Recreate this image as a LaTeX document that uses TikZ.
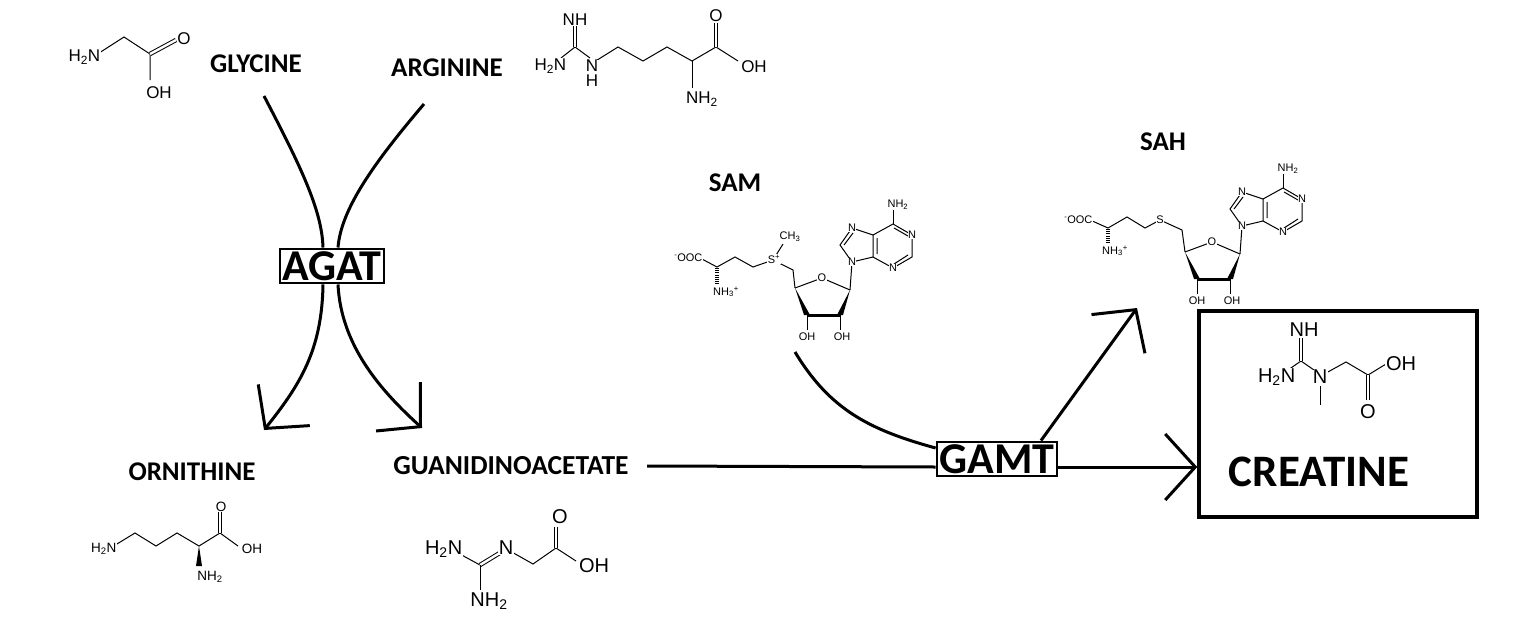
\documentclass[tikz,border=0pt]{standalone}
\usepackage{fontspec}
\setmainfont{Liberation Sans}
\newfontfamily\labf{Carlito}
\usetikzlibrary{arrows.meta}
\newcommand\sub[1]{\textsubscript{#1}}
\newcommand\sups[1]{\textsuperscript{#1}}
\begin{document}
\begin{tikzpicture}[x=1pt,y=-1pt,
  bond/.style={line width=1pt},
  dbl/.style={bond,double,double distance=2.4pt},
  hash/.style={line width=4pt,dash pattern=on 0.8pt off 1.4pt},
  atom/.style={fill=white,inner sep=0.6pt,font=\fontsize{17}{17}\selectfont},
  satom/.style={fill=white,inner sep=0.4pt,font=\fontsize{11}{11}\selectfont},
  oatom/.style={fill=white,inner sep=0.5pt,font=\fontsize{13.5}{13.5}\selectfont},
  gatom/.style={fill=white,inner sep=0.6pt,font=\fontsize{20}{20}\selectfont},
  lab/.style={font=\labf\bfseries\fontsize{27}{27}\selectfont,inner sep=1pt},
  enz/.style={draw,line width=2.8pt,font=\labf\bfseries\fontsize{44}{44}\selectfont,inner sep=2.5pt,fill=white},
  arr/.style={line width=3pt},
  tip/.style={line width=3pt,-{Straight Barb[length=30pt,width=66pt,line width=3pt]}},
  adeno/.pic={
    \draw[bond] (0,0)--(27,-10)--(55,2);
    \fill (0,0)--(9,27)--(15,27)--cycle;
    \fill (55,2)--(42,27)--(48,27)--cycle;
    \draw[line width=3pt] (12,27)--(45,27);
    \draw[bond] (12,27)--(12,42) (45,27)--(45,42);
    \draw[bond] (55,2)--(57,-26);
    \draw[bond] (57,-26)--(78,-31)--(78,-53)--(57,-60)--(45,-43)--cycle;
    \draw[bond] (78,-31)--(98,-20)--(117,-31)--(117,-53)--(98,-64)--(78,-53);
    \draw[bond] (98,-64)--(98,-78);
    \draw[bond] (49,-43)--(58,-55) (99,-60)--(113,-52) (113,-33)--(99,-24) (82,-34)--(82,-50);
    \node[satom] (-o) at (27,-10) {O};
    \node[satom] (-n9) at (57,-26) {N};
    \node[satom] (-n7) at (57,-60) {N};
    \node[satom] (-n1) at (117,-53) {N};
    \node[satom] (-n3) at (98,-20) {N};
    \node[satom,anchor=south west] (-nh) at (92,-78) {NH\sub2};
    \node[satom] (-oh1) at (12,49) {OH};
    \node[satom] (-oh2) at (47,49) {OH};
  }]
\useasboundingbox (0,0) rectangle (1536,640);

% ---------- glycine ----------
\draw[bond] (96,55)--(124,37)--(150,54)--(150,80);
\draw[dbl] (150,54)--(176,40);
\node[atom,anchor=east] (glyN) at (101,57) {H\sub2N};
\node[atom] (glyO) at (184,39) {O};
\node[atom] (glyOH) at (159,93) {OH};

% ---------- arginine ----------
\draw[bond] (561,58)--(575,47)--(590,58);
\draw[dbl] (575,47)--(575,26);
\draw[bond] (594,62)--(618,47)--(643,61)--(667,47)--(692,61)--(716,47)--(738,61);
\draw[bond] (692,61)--(692,88);
\draw[dbl] (716,47)--(716,22);
\node[atom] (argNH) at (575,20) {NH};
\node[atom,anchor=east] (argN1) at (567,66) {H\sub2N};
\node[atom] (argN2) at (592,66) {N};
\node[atom] (argH) at (592,81) {H};
\node[atom] (argO) at (716,16) {O};
\node[atom] (argOH) at (754,67) {OH};
\node[atom] (argNH2) at (702,99) {NH\sub2};

% ---------- ornithine ----------
\draw[bond] (112,547)--(135,533)--(156,546)--(177,533)--(199,546)--(220,533)--(238,546);
\draw[dbl] (220,533)--(220,512);
\fill (199,546)--(196,566)--(202,566)--cycle;
\node[oatom,anchor=east] (ornN) at (117,549) {H\sub2N};
\node[oatom] (ornO) at (221,507) {O};
\node[oatom] (ornOH) at (252,549) {OH};
\node[oatom] (ornNH2) at (210,577) {NH\sub2};

% ---------- guanidinoacetate ----------
\draw[bond] (458,553)--(480,565);
\draw[dbl] (480,565)--(503,551);
\draw[bond] (480,565)--(480,590);
\draw[bond] (510,551)--(533,564)--(556,548)--(576,561);
\draw[dbl] (556,548)--(556,527);
\node[gatom,anchor=east] (gaaN1) at (463,549) {H\sub2N};
\node[gatom] (gaaN2) at (506,548) {N};
\node[gatom] (gaaNH2) at (489,601) {NH\sub2};
\node[gatom] (gaaO) at (560,517) {O};
\node[gatom] (gaaOH) at (594,566) {OH};

% ---------- SAM ----------
\draw[bond] (700,258)--(717,267)--(735,257)--(753,267)--(773,260)--(793,270)--(795,288);
\draw[bond] (773,260)--(783,244);
\draw[hash] (717,268)--(717,284);
\pic (samr) at (795,288) {adeno};
\node[satom,anchor=east] (samOOC) at (703,258) {\sups{-}OOC};
\node[satom] (samS) at (774,259) {S\sups{+}};
\node[satom] (samCH3) at (790,237) {CH\sub3};
\node[satom] (samNH3) at (726,292) {NH\sub3\sups{+}};

% ---------- SAH ----------
\draw[bond] (1090,220)--(1108,228)--(1127,217)--(1145,228)--(1160,220)--(1182,230)--(1185,252);
\draw[hash] (1108,229)--(1108,243);
\pic (sahr) at (1185,252) {adeno};
\node[satom,anchor=east] (sahOOC) at (1093,220) {\sups{-}OOC};
\node[satom] (sahS) at (1160,220) {S};
\node[satom] (sahNH3) at (1115,251) {NH\sub3\sups{+}};

% ---------- creatine ----------
\node[draw,line width=3.5pt,minimum width=278pt,minimum height=206pt] (crbox) at (1338,414) {};
\draw[bond] (1288,370)--(1301,361)--(1314,370);
\draw[dbl] (1301,361)--(1301,338);
\draw[bond] (1326,373)--(1346,362)--(1368,375)--(1386,364);
\draw[bond] (1320,386)--(1320,405);
\draw[dbl] (1368,375)--(1368,400);
\node[gatom] (crNH) at (1304,330) {NH};
\node[gatom,anchor=east] (crN1) at (1296,377) {H\sub2N};
\node[gatom] (crN2) at (1320,377) {N};
\node[gatom] (crOH) at (1401,364) {OH};
\node[gatom] (crO) at (1368,412) {O};
\node[font=\labf\bfseries\fontsize{45}{45}\selectfont] (creat) at (1319,472) {CREATINE};

% ---------- labels ----------
\node[lab] (gly) at (256,64) {GLYCINE};
\node[lab] (arg) at (447,68) {ARGININE};
\node[lab] (sam) at (735,183) {SAM};
\node[lab] (sah) at (1163,142) {SAH};
\node[lab] (orn) at (192,472) {ORNITHINE};
\node[lab,font=\labf\bfseries\fontsize{27.5}{27.5}\selectfont] (gaa) at (511,466) {GUANIDINOACETATE};

% ---------- AGAT ----------
\node[enz] (agat) at (332,266) {AGAT};
\coordinate (g0) at (264,96);
\coordinate (a0) at (424,104);
\coordinate (o1) at (264,430);
\coordinate (u1) at (422,428);
\draw[arr] (g0) .. controls (300,165) and (322,210) .. ([xshift=-9pt]agat.north);
\draw[arr] (a0) .. controls (372,165) and (341,210) .. ([xshift=6pt]agat.north);
\draw[tip] ([xshift=-9pt]agat.south) .. controls (322,350) and (300,385) .. (o1);
\draw[tip] ([xshift=6pt]agat.south) .. controls (341,345) and (380,390) .. (u1);

% ---------- GAMT ----------
\node[enz] (gamt) at (997,459) {GAMT};
\coordinate (s0) at (795,352);
\coordinate (h1) at (1137,308);
\coordinate (g1) at (647,466);
\draw[arr] (s0) .. controls (830,410) and (870,430) .. ([yshift=11pt]gamt.west);
\draw[arr] (g1) -- ([yshift=-8pt]gamt.west);
\draw[tip] ([yshift=-8pt]gamt.east) -- ([yshift=-8pt]gamt.east -| crbox.west);
\draw[tip] ([xshift=44pt]gamt.north) -- (h1);
\end{tikzpicture}
\end{document}
